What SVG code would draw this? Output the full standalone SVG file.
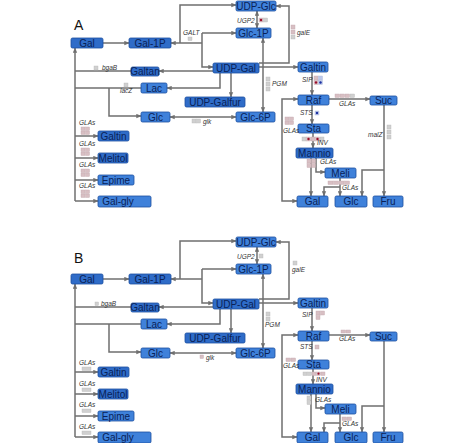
<svg xmlns="http://www.w3.org/2000/svg" width="474" height="443" viewBox="0 0 474 443">
<defs>
<marker id="ah" viewBox="0 0 6 6" refX="5.6" refY="3" markerWidth="5" markerHeight="5" orient="auto-start-reverse" markerUnits="userSpaceOnUse"><path d="M0,0.4 L6,3 L0,5.6 z" fill="#6f6f6f"/></marker>
</defs>
<style>
.n rect{fill:#2f6cc8;stroke:#1d4f9e;stroke-width:0.8}
.l rect{fill:#3f81da}
.n text{font-family:"Liberation Sans",Arial,sans-serif;font-size:10px;fill:#0a2257;text-anchor:middle}
.c path{stroke:#6f6f6f;stroke-width:1.5;fill:none}
.e{marker-end:url(#ah)}
.b{marker-start:url(#ah);marker-end:url(#ah)}
.g{font-family:"Liberation Sans",Arial,sans-serif;font-size:6.5px;font-style:italic;fill:#333}
.p{fill:#d8bfc3;stroke:#c4a9ae;stroke-width:0.4}
.q{fill:#d0d0d0;stroke:#b8b8b8;stroke-width:0.4}
.k{fill:#bcc8ea;stroke:#a8b4d8;stroke-width:0.4}
.rd{fill:#9b0d2a}
.bd{fill:#1a2fa0}
.pl{font-family:"Liberation Sans",Arial,sans-serif;font-size:14px;fill:#111}
</style>

<text class="pl" x="74" y="30">A</text>
<text class="pl" x="74" y="263">B</text>

<!-- Panel A connectors -->
<g id="connectors-A" class="c">
<path class="e" d="M103,43 H129"/>
<path class="e" d="M180,43 V5 H236"/>
<path class="e" d="M202,33 H236"/>
<path class="e" d="M202,33 V67 H213"/>
<path class="e" d="M202,43 H171"/>
<path class="b" d="M257,11 V28"/>
<path class="e" d="M259,63 H289 V6 H276"/>
<path class="e" d="M259,67 H298"/>
<path class="e" d="M213,71 H159"/>
<path d="M131,71 H75"/>
<path class="e" d="M220,73 V88 H167"/>
<path d="M141,88 H75"/>
<path class="e" d="M109,88 V116 H141"/>
<path class="e" d="M231,73 V97"/>
<path class="b" d="M263,38 V112"/>
<path class="b" d="M170,117 H236"/>
<path class="e" d="M75,201 V48"/>
<path class="e" d="M75,136 H98"/>
<path class="e" d="M75,158 H98"/>
<path class="e" d="M75,180 H98"/>
<path class="e" d="M75,201 H98"/>
<path class="e" d="M312,72 V95"/>
<path class="e" d="M329,99 H370"/>
<path class="e" d="M312,105 V124"/>
<path class="b" d="M298,99 H282 V201 H297"/>
<path class="e" d="M313,133 V148"/>
<path class="e" d="M311,158 V196"/>
<path class="e" d="M316,158 V172 H325"/>
<path class="e" d="M340,178 V196"/>
<path class="e" d="M340,187 H324 V196"/>
<path class="e" d="M384,105 V196"/>
<path class="e" d="M384,170 H362 V196"/>
</g>

<!-- Panel B connectors -->
<g id="connectors-B" class="c" transform="translate(0,236)">
<path class="e" d="M103,43 H129"/>
<path class="e" d="M180,43 V5 H236"/>
<path class="e" d="M202,33 H236"/>
<path class="e" d="M202,33 V67 H213"/>
<path class="e" d="M202,43 H171"/>
<path class="b" d="M257,11 V28"/>
<path class="e" d="M259,63 H289 V6 H276"/>
<path class="e" d="M259,67 H298"/>
<path class="e" d="M213,71 H159"/>
<path d="M131,71 H75"/>
<path class="e" d="M220,73 V88 H167"/>
<path d="M141,88 H75"/>
<path class="e" d="M109,88 V116 H141"/>
<path class="e" d="M231,73 V97"/>
<path class="b" d="M263,38 V112"/>
<path class="b" d="M170,117 H236"/>
<path class="e" d="M75,201 V48"/>
<path class="e" d="M75,136 H98"/>
<path class="e" d="M75,158 H98"/>
<path class="e" d="M75,180 H98"/>
<path class="e" d="M75,201 H98"/>
<path class="e" d="M312,72 V95"/>
<path class="e" d="M329,99 H370"/>
<path class="e" d="M312,105 V124"/>
<path class="b" d="M298,99 H282 V201 H297"/>
<path class="e" d="M313,133 V148"/>
<path class="e" d="M311,158 V196"/>
<path class="e" d="M316,158 V172 H325"/>
<path class="e" d="M340,178 V196"/>
<path class="e" d="M340,187 H324 V196"/>
<path class="e" d="M384,105 V196"/>
<path class="e" d="M384,170 H362 V196"/>
</g>

<!-- Panel A nodes -->
<g id="A-Gal" class="n" transform="translate(71,38)"><rect width="32" height="10" rx="1.5"/><text x="16" y="8.6">Gal</text></g>
<g id="A-Gal-1P" class="n" transform="translate(129,38)"><rect width="42" height="10" rx="1.5"/><text x="21" y="8.6">Gal-1P</text></g>
<g id="A-UDP-Glc" class="n l" transform="translate(236,1)"><rect width="40" height="10" rx="1.5"/><text x="20" y="8.6">UDP-Glc</text></g>
<g id="A-Glc-1P" class="n l" transform="translate(236,28)"><rect width="35" height="10" rx="1.5"/><text x="17.5" y="8.6">Glc-1P</text></g>
<g id="A-UDP-Gal" class="n" transform="translate(213,63)"><rect width="46" height="10" rx="1.5"/><text x="23" y="8.6">UDP-Gal</text></g>
<g id="A-Galtan" class="n" transform="translate(131,67)"><rect width="28" height="9" rx="1.5"/><text x="14" y="8.2">Galtan</text></g>
<g id="A-Lac" class="n l" transform="translate(141,83)"><rect width="26" height="10" rx="1.5"/><text x="13" y="8.6">Lac</text></g>
<g id="A-UDP-Galfur" class="n" transform="translate(185,97)"><rect width="60" height="10" rx="1.5"/><text x="30" y="8.6">UDP-Galfur</text></g>
<g id="A-Glc-left" class="n l" transform="translate(141,112)"><rect width="29" height="10" rx="1.5"/><text x="14.5" y="8.6">Glc</text></g>
<g id="A-Glc-6P" class="n l" transform="translate(236,112)"><rect width="39" height="10" rx="1.5"/><text x="19.5" y="8.6">Glc-6P</text></g>
<g id="A-Galtin-left" class="n" transform="translate(98,131)"><rect width="31" height="10" rx="1.5"/><text x="15.5" y="8.6">Galtin</text></g>
<g id="A-Melitol" class="n" transform="translate(98,153)"><rect width="30" height="10" rx="1.5"/><text x="15" y="8.6">Melitol</text></g>
<g id="A-Epime" class="n l" transform="translate(98,175)"><rect width="36" height="10" rx="1.5"/><text x="18" y="8.6">Epime</text></g>
<g id="A-Gal-gly" class="n l" transform="translate(98,196)"><rect width="53" height="11" rx="1.5"/><text x="20" y="9">Gal-gly</text></g>
<g id="A-Galtin-right" class="n l" transform="translate(298,62)"><rect width="30" height="10" rx="1.5"/><text x="15" y="8.6">Galtin</text></g>
<g id="A-Raf" class="n l" transform="translate(298,95)"><rect width="31" height="10" rx="1.5"/><text x="15.5" y="8.6">Raf</text></g>
<g id="A-Suc" class="n l" transform="translate(370,96)"><rect width="27" height="9" rx="1.5"/><text x="13.5" y="8.2">Suc</text></g>
<g id="A-Sta" class="n l" transform="translate(298,124)"><rect width="31" height="9" rx="1.5"/><text x="15.5" y="8.2">Sta</text></g>
<g id="A-Mannio" class="n" transform="translate(296,148)"><rect width="37" height="10" rx="1.5"/><text x="18.5" y="8.6">Mannio</text></g>
<g id="A-Meli" class="n l" transform="translate(325,168)"><rect width="31" height="10" rx="1.5"/><text x="15.5" y="8.6">Meli</text></g>
<g id="A-Gal-right" class="n l" transform="translate(297,196)"><rect width="31" height="11" rx="1.5"/><text x="15.5" y="9">Gal</text></g>
<g id="A-Glc-right" class="n l" transform="translate(335,196)"><rect width="32" height="11" rx="1.5"/><text x="16" y="9">Glc</text></g>
<g id="A-Fru" class="n l" transform="translate(373,196)"><rect width="30" height="11" rx="1.5"/><text x="15" y="9">Fru</text></g>

<!-- Panel A gene labels -->
<g id="A-genes">
<text class="g" x="237" y="23">UGP2</text>
<rect class="p" x="259" y="18" width="4" height="4"/><circle class="rd" cx="261" cy="20" r="1.2"/>
<rect class="q" x="263.5" y="18" width="4" height="4"/>
<text class="g" x="183" y="35">GALT</text>
<rect class="q" x="188" y="37" width="4" height="3.5"/>
<rect class="p" x="291" y="25" width="4" height="4"/>
<rect class="p" x="291" y="30" width="4" height="4"/>
<rect class="q" x="291" y="35" width="4" height="4"/>
<text class="g" x="297" y="35">galE</text>
<rect class="q" x="94" y="66" width="4" height="4"/>
<text class="g" x="102" y="70">bgaB</text>
<rect class="q" x="124" y="83" width="4" height="4"/>
<text class="g" x="120" y="93">lacZ</text>
<rect class="q" x="266" y="77" width="4" height="4"/>
<rect class="q" x="266" y="82" width="4" height="4"/>
<rect class="q" x="266" y="87" width="4" height="4"/>
<text class="g" x="272" y="86">PGM</text>
<rect class="q" x="192" y="119" width="4" height="4"/>
<rect class="q" x="196.5" y="119" width="4" height="4"/>
<text class="g" x="203" y="124">glk</text>
<text class="g" x="79" y="125">GLAs</text>
<rect class="p" x="81" y="127" width="4" height="3.5"/><rect class="p" x="85.5" y="127" width="4" height="3.5"/>
<rect class="p" x="81" y="131" width="4" height="3.5"/><rect class="p" x="85.5" y="131" width="4" height="3.5"/>
<text class="g" x="79" y="146">GLAs</text>
<rect class="p" x="81" y="148" width="4" height="3.5"/><rect class="p" x="85.5" y="148" width="4" height="3.5"/>
<rect class="p" x="81" y="152" width="4" height="3.5"/><rect class="p" x="85.5" y="152" width="4" height="3.5"/>
<text class="g" x="79" y="167">GLAs</text>
<rect class="p" x="81" y="169" width="4" height="3.5"/><rect class="p" x="85.5" y="169" width="4" height="3.5"/>
<rect class="p" x="81" y="173" width="4" height="3.5"/><rect class="p" x="85.5" y="173" width="4" height="3.5"/>
<text class="g" x="79" y="188">GLAs</text>
<rect class="p" x="81" y="190" width="4" height="3.5"/><rect class="p" x="85.5" y="190" width="4" height="3.5"/>
<rect class="p" x="81" y="194" width="4" height="3.5"/><rect class="p" x="85.5" y="194" width="4" height="3.5"/>
<text class="g" x="302" y="82">SIP</text>
<rect class="p" x="314" y="76" width="4" height="4"/><rect class="k" x="318.5" y="76" width="4" height="4"/>
<rect class="p" x="314" y="80.5" width="4" height="4"/><circle class="rd" cx="316" cy="82.5" r="1.2"/>
<rect class="k" x="318.5" y="80.5" width="4" height="4"/><circle class="bd" cx="320.5" cy="82.5" r="1.2"/>
<rect class="p" x="335" y="94" width="4.5" height="3.5"/><rect class="p" x="340" y="94" width="4.5" height="3.5"/>
<rect class="p" x="345" y="94" width="4.5" height="3.5"/><rect class="q" x="350" y="94" width="4.5" height="3.5"/>
<text class="g" x="339" y="106">GLAs</text>
<text class="g" x="300" y="115">STS</text>
<rect class="k" x="315" y="111" width="4" height="4"/><circle class="bd" cx="317" cy="113" r="1.2"/>
<rect class="p" x="285" y="117" width="4" height="3.5"/><rect class="p" x="289.5" y="117" width="4" height="3.5"/>
<rect class="p" x="285" y="121" width="4" height="3.5"/><rect class="p" x="289.5" y="121" width="4" height="3.5"/>
<text class="g" x="283" y="133">GLAs</text>
<rect class="q" x="302" y="137" width="4" height="4"/>
<rect class="p" x="306.5" y="137" width="4" height="4"/><circle class="rd" cx="308.5" cy="139" r="1.2"/>
<rect class="p" x="311" y="137" width="4" height="4"/>
<rect class="p" x="315.5" y="137" width="4" height="4"/><circle class="rd" cx="317.5" cy="139" r="1.2"/>
<rect class="q" x="320" y="137" width="4" height="4"/>
<text class="g" x="317" y="145">INV</text>
<rect class="p" x="307" y="159" width="4" height="4"/><rect class="p" x="311.5" y="159" width="4" height="4"/>
<rect class="p" x="307" y="163.5" width="4" height="4"/><rect class="p" x="311.5" y="163.5" width="4" height="4"/>
<text class="g" x="320" y="164">GLAs</text>
<rect class="p" x="328" y="181" width="5" height="3.5"/><rect class="p" x="333.5" y="181" width="5" height="3.5"/>
<rect class="p" x="339" y="181" width="5" height="3.5"/><rect class="p" x="344.5" y="181" width="5" height="3.5"/>
<text class="g" x="342" y="190">GLAs</text>
<text class="g" x="368" y="137">malZ</text>
<rect class="q" x="387" y="125" width="4" height="4"/>
<rect class="q" x="387" y="130" width="4" height="4"/>
<rect class="q" x="387" y="135" width="4" height="4"/>
</g>

<!-- Panel B nodes -->
<g id="B-Gal" class="n" transform="translate(71,274)"><rect width="32" height="10" rx="1.5"/><text x="16" y="8.6">Gal</text></g>
<g id="B-Gal-1P" class="n" transform="translate(129,274)"><rect width="42" height="10" rx="1.5"/><text x="21" y="8.6">Gal-1P</text></g>
<g id="B-UDP-Glc" class="n l" transform="translate(236,237)"><rect width="40" height="10" rx="1.5"/><text x="20" y="8.6">UDP-Glc</text></g>
<g id="B-Glc-1P" class="n l" transform="translate(236,264)"><rect width="35" height="10" rx="1.5"/><text x="17.5" y="8.6">Glc-1P</text></g>
<g id="B-UDP-Gal" class="n" transform="translate(213,299)"><rect width="46" height="10" rx="1.5"/><text x="23" y="8.6">UDP-Gal</text></g>
<g id="B-Galtan" class="n" transform="translate(131,303)"><rect width="28" height="9" rx="1.5"/><text x="14" y="8.2">Galtan</text></g>
<g id="B-Lac" class="n l" transform="translate(141,319)"><rect width="26" height="10" rx="1.5"/><text x="13" y="8.6">Lac</text></g>
<g id="B-UDP-Galfur" class="n" transform="translate(185,333)"><rect width="60" height="10" rx="1.5"/><text x="30" y="8.6">UDP-Galfur</text></g>
<g id="B-Glc-left" class="n l" transform="translate(141,348)"><rect width="29" height="10" rx="1.5"/><text x="14.5" y="8.6">Glc</text></g>
<g id="B-Glc-6P" class="n l" transform="translate(236,348)"><rect width="39" height="10" rx="1.5"/><text x="19.5" y="8.6">Glc-6P</text></g>
<g id="B-Galtin-left" class="n" transform="translate(98,367)"><rect width="31" height="10" rx="1.5"/><text x="15.5" y="8.6">Galtin</text></g>
<g id="B-Melitol" class="n" transform="translate(98,389)"><rect width="30" height="10" rx="1.5"/><text x="15" y="8.6">Melitol</text></g>
<g id="B-Epime" class="n l" transform="translate(98,411)"><rect width="36" height="10" rx="1.5"/><text x="18" y="8.6">Epime</text></g>
<g id="B-Gal-gly" class="n l" transform="translate(98,432)"><rect width="53" height="11" rx="1.5"/><text x="20" y="9">Gal-gly</text></g>
<g id="B-Galtin-right" class="n l" transform="translate(298,298)"><rect width="30" height="10" rx="1.5"/><text x="15" y="8.6">Galtin</text></g>
<g id="B-Raf" class="n l" transform="translate(298,331)"><rect width="31" height="10" rx="1.5"/><text x="15.5" y="8.6">Raf</text></g>
<g id="B-Suc" class="n l" transform="translate(370,332)"><rect width="27" height="9" rx="1.5"/><text x="13.5" y="8.2">Suc</text></g>
<g id="B-Sta" class="n l" transform="translate(298,360)"><rect width="31" height="9" rx="1.5"/><text x="15.5" y="8.2">Sta</text></g>
<g id="B-Mannio" class="n" transform="translate(296,384)"><rect width="37" height="10" rx="1.5"/><text x="18.5" y="8.6">Mannio</text></g>
<g id="B-Meli" class="n l" transform="translate(325,404)"><rect width="31" height="10" rx="1.5"/><text x="15.5" y="8.6">Meli</text></g>
<g id="B-Gal-right" class="n l" transform="translate(297,432)"><rect width="31" height="11" rx="1.5"/><text x="15.5" y="9">Gal</text></g>
<g id="B-Glc-right" class="n l" transform="translate(335,432)"><rect width="32" height="11" rx="1.5"/><text x="16" y="9">Glc</text></g>
<g id="B-Fru" class="n l" transform="translate(373,432)"><rect width="30" height="11" rx="1.5"/><text x="15" y="9">Fru</text></g>

<!-- Panel B gene labels -->
<g id="B-genes">
<text class="g" x="237" y="259">UGP2</text>
<rect class="q" x="259" y="254" width="4" height="4"/>
<rect class="q" x="293" y="261" width="4" height="4"/>
<text class="g" x="292" y="272">galE</text>
<rect class="q" x="95" y="302" width="3.5" height="3.5"/>
<text class="g" x="101" y="306">bgaB</text>
<rect class="q" x="266" y="312" width="4" height="4"/>
<rect class="q" x="266" y="317" width="4" height="4"/>
<text class="g" x="265" y="327">PGM</text>
<rect class="p" x="200" y="355" width="3.5" height="3.5"/>
<text class="g" x="206" y="360">glk</text>
<text class="g" x="79" y="365">GLAs</text>
<rect class="q" x="82" y="367" width="9" height="3.5"/>
<text class="g" x="79" y="386">GLAs</text>
<rect class="q" x="82" y="388" width="9" height="3.5"/>
<text class="g" x="79" y="407">GLAs</text>
<rect class="q" x="82" y="409" width="9" height="3.5"/>
<text class="g" x="79" y="429">GLAs</text>
<rect class="q" x="82" y="431" width="9" height="3.5"/>
<text class="g" x="302" y="317">SIP</text>
<rect class="p" x="316" y="311" width="4" height="4"/><rect class="p" x="320.5" y="311" width="4" height="4"/>
<rect class="p" x="316" y="315.5" width="4" height="4"/>
<rect class="p" x="341" y="330" width="4.5" height="3"/><rect class="p" x="346" y="330" width="4.5" height="3"/>
<text class="g" x="339" y="341">GLAs</text>
<text class="g" x="300" y="349">STS</text>
<rect class="p" x="315" y="345" width="4" height="4"/>
<rect class="p" x="286" y="358" width="4.5" height="3.5"/><rect class="p" x="291" y="358" width="4.5" height="3.5"/>
<text class="g" x="283" y="368">GLAs</text>
<rect class="q" x="303" y="372" width="4" height="3.5"/>
<rect class="q" x="307.5" y="372" width="4" height="3.5"/>
<rect class="p" x="312" y="372" width="4" height="3.5"/>
<rect class="p" x="316.5" y="372" width="4" height="3.5"/><circle class="rd" cx="318.5" cy="373.7" r="1.1"/>
<rect class="p" x="321" y="372" width="4" height="3.5"/>
<text class="g" x="316" y="382">INV</text>
<rect class="q" x="307" y="396" width="4" height="4"/>
<rect class="q" x="307" y="400.5" width="4" height="4"/>
<text class="g" x="315" y="402">GLAs</text>
<rect class="p" x="342" y="417" width="4.5" height="3.5"/><rect class="p" x="347" y="417" width="4.5" height="3.5"/>
<text class="g" x="342" y="426">GLAs</text>
</g>
</svg>
